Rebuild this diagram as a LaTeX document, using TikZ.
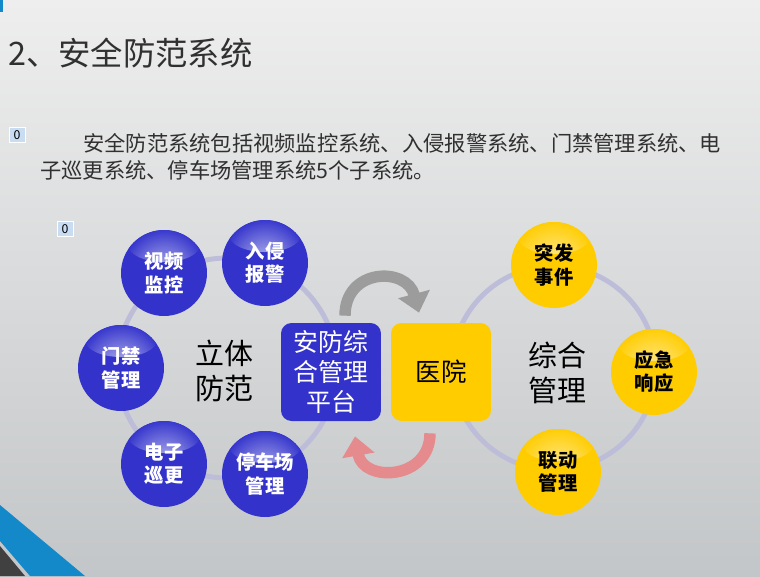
\documentclass[tikz,border=0pt]{standalone}
\usepackage{fontspec}
\setmainfont{Noto Sans CJK SC}
\usetikzlibrary{arrows.meta, positioning}

\definecolor{secblue}{HTML}{3333CC}
\definecolor{secgold}{HTML}{FFCC00}
\definecolor{ringgray}{HTML}{BDBDDA}
\definecolor{bgtop}{HTML}{EEEEEE}
\definecolor{bgbot}{HTML}{C3C6C8}
\definecolor{txtgray}{HTML}{303030}
\definecolor{stripeblue}{HTML}{1489C9}
\definecolor{tagblue}{HTML}{C8DCF2}
\definecolor{arrowgray}{HTML}{9C9C9C}
\definecolor{arrowpink}{HTML}{E58A8D}

\begin{document}
\begin{tikzpicture}[
    x=0.02cm, y=-0.02cm,
    bluedot/.style = {circle, minimum size=1.72cm, inner sep=0pt, fill=secblue, text=white,
        font=\fontsize{11}{13.2}\selectfont\bfseries, align=center,
        path picture={\shade[inner color=white!65!secblue, outer color=secblue]
            ([yshift=-0.3cm]path picture bounding box.north) ellipse (0.72cm and 0.34cm);}},
    golddot/.style = {circle, minimum size=1.72cm, inner sep=0pt, fill=secgold, text=black,
        font=\fontsize{11}{13.2}\selectfont\bfseries, align=center,
        path picture={\shade[inner color=white!60!secgold, outer color=secgold]
            ([yshift=-0.3cm]path picture bounding box.north) ellipse (0.72cm and 0.34cm);}},
    ring/.style = {draw=ringgray, line width=2.8pt},
    tag/.style = {draw=white, fill=tagblue, font=\fontsize{7}{8}\selectfont, minimum width=0.32cm, minimum height=0.3cm, inner sep=0pt},
    hubbox/.style = {rounded corners=6pt, minimum width=2cm, minimum height=1.96cm, inner sep=0pt, align=center},
    bigword/.style = {font=\fontsize{16.5}{19.8}\selectfont, align=center, text=black}
]
\useasboundingbox (0,0) rectangle (760,576);

% background and corner stripes
\shade[top color=bgtop, bottom color=bgbot] (0,0) rectangle (760,576);
\fill[stripeblue] (0,0) rectangle (3,12);
\fill[stripeblue] (0,505) -- (85,576) -- (30,576) -- (0,541) -- cycle;
\fill[black!75] (0,546) -- (25,576) -- (0,576) -- cycle;

% heading and text
\node[anchor=west, inner sep=0pt, text=txtgray, font=\fontsize{18.4}{22}\selectfont] (title) at (8,53) {2、安全防范系统};
\node[tag] (tag1) at (17,135) {0};
\node[anchor=west, inner sep=0pt, text=txtgray, font=\fontsize{12.1}{14}\selectfont] (line1) at (83,143) {安全防范系统包括视频监控系统、入侵报警系统、门禁管理系统、电};
\node[anchor=west, inner sep=0pt, text=txtgray, font=\fontsize{12.1}{14}\selectfont] (line2) at (40,170) {子巡更系统、停车场管理系统5个子系统。};
\node[tag] (tag2) at (65,229) {0};

% rings
\coordinate (leftc) at (227,368);
\coordinate (rightc) at (554,368);
\draw[ring] (leftc) circle (110);
\draw[ring] (rightc) circle (102);

% hubs
\node[hubbox, fill=secblue, text=white, font=\fontsize{14.2}{17}\selectfont] (plat) at (331,372) {安防综\\合管理\\平台};
\node[hubbox, fill=secgold, text=black, font=\fontsize{14.5}{17}\selectfont] (hosp) at (441,372) {医院};

% loop arrows
\draw[arrowgray, line width=6.5pt, -{Triangle[width=18pt,length=11pt]}]
    ([xshift=0.28cm, yshift=0.14cm]plat.north) to[out=90, in=105, looseness=1.65] ([xshift=-0.44cm, yshift=0.2cm]hosp.north);
\draw[arrowpink, line width=6.5pt, -{Triangle[width=18pt,length=11pt]}]
    ([xshift=-0.22cm, yshift=-0.24cm]hosp.south) to[out=-90, in=-80, looseness=1.6] ([xshift=0.48cm, yshift=-0.3cm]plat.south);

% left ring members
\node[bluedot] (vid) at (164,273) {视频\\监控};
\node[bluedot] (intr) at (265,263) {入侵\\报警};
\node[bluedot] (acc) at (121,368) {门禁\\管理};
\node[bluedot] (patrol) at (164,464) {电子\\巡更};
\node[bluedot] (park) at (265,474) {停车场\\管理};
\node[bigword] (solid) at (224,371) {立体\\防范};

% right ring members
\node[golddot] (event) at (554,265) {突发\\事件};
\node[golddot] (resp) at (654,372) {应急\\响应};
\node[golddot] (link) at (558,472) {联动\\管理};
\node[bigword] (manage) at (557,373) {综合\\管理};

\end{tikzpicture}
\end{document}
